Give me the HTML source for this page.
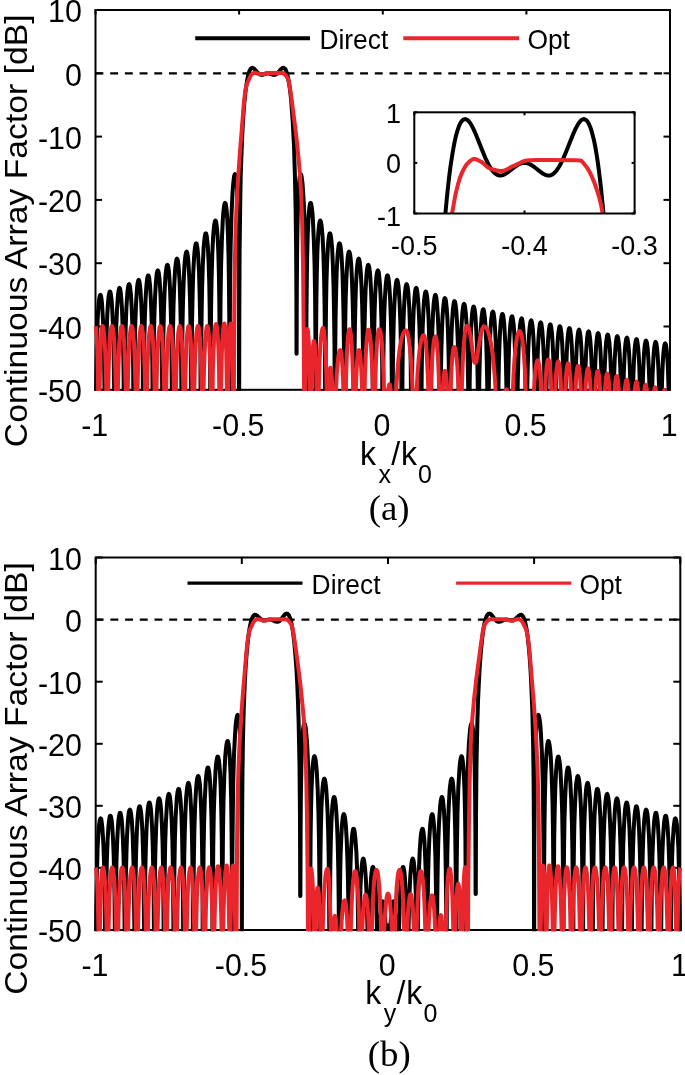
<!DOCTYPE html>
<html><head><meta charset="utf-8"><title>Continuous Array Factor</title>
<style>html,body{margin:0;padding:0;background:#fff;overflow:hidden;}svg{display:block;}</style>
</head><body>
<svg width="685" height="1075" viewBox="0 0 685 1075" font-family="'Liberation Sans', Arial, Helvetica, sans-serif" fill="#000">
<rect width="685" height="1075" fill="#fff"/>
<clipPath id="clipA"><rect x="93.5" y="10.0" width="578.5" height="381.0"/></clipPath>
<line x1="95.5" y1="73.3" x2="670.0" y2="73.3" stroke="#000" stroke-width="2.2" stroke-dasharray="7.9 6.8"/>
<rect x="95.5" y="10.0" width="574.5" height="379.8" fill="none" stroke="#000" stroke-width="2"/>
<line x1="95.5" y1="389.8" x2="95.5" y2="385.3" stroke="#000" stroke-width="2"/>
<line x1="95.5" y1="10.0" x2="95.5" y2="14.5" stroke="#000" stroke-width="2"/>
<text transform="translate(94.7 435.6) scale(1.0 1.05)" font-size="30.4" text-anchor="middle">-1</text>
<line x1="239.1" y1="389.8" x2="239.1" y2="385.3" stroke="#000" stroke-width="2"/>
<line x1="239.1" y1="10.0" x2="239.1" y2="14.5" stroke="#000" stroke-width="2"/>
<text transform="translate(238.3 435.6) scale(1.0 1.05)" font-size="30.4" text-anchor="middle">-0.5</text>
<line x1="382.8" y1="389.8" x2="382.8" y2="385.3" stroke="#000" stroke-width="2"/>
<line x1="382.8" y1="10.0" x2="382.8" y2="14.5" stroke="#000" stroke-width="2"/>
<text transform="translate(381.9 435.6) scale(1.0 1.05)" font-size="30.4" text-anchor="middle">0</text>
<line x1="526.4" y1="389.8" x2="526.4" y2="385.3" stroke="#000" stroke-width="2"/>
<line x1="526.4" y1="10.0" x2="526.4" y2="14.5" stroke="#000" stroke-width="2"/>
<text transform="translate(525.6 435.6) scale(1.0 1.05)" font-size="30.4" text-anchor="middle">0.5</text>
<line x1="670.0" y1="389.8" x2="670.0" y2="385.3" stroke="#000" stroke-width="2"/>
<line x1="670.0" y1="10.0" x2="670.0" y2="14.5" stroke="#000" stroke-width="2"/>
<text transform="translate(669.2 435.6) scale(1.0 1.05)" font-size="30.4" text-anchor="middle">1</text>
<line x1="95.5" y1="10.0" x2="102.0" y2="10.0" stroke="#000" stroke-width="2"/>
<line x1="670.0" y1="10.0" x2="663.5" y2="10.0" stroke="#000" stroke-width="2"/>
<text transform="translate(81.8 22.2) scale(1.0 1.05)" font-size="30.4" text-anchor="end">10</text>
<line x1="95.5" y1="73.3" x2="102.0" y2="73.3" stroke="#000" stroke-width="2"/>
<line x1="670.0" y1="73.3" x2="663.5" y2="73.3" stroke="#000" stroke-width="2"/>
<text transform="translate(81.8 85.5) scale(1.0 1.05)" font-size="30.4" text-anchor="end">0</text>
<line x1="95.5" y1="136.6" x2="102.0" y2="136.6" stroke="#000" stroke-width="2"/>
<line x1="670.0" y1="136.6" x2="663.5" y2="136.6" stroke="#000" stroke-width="2"/>
<text transform="translate(81.8 148.8) scale(1.0 1.05)" font-size="30.4" text-anchor="end">-10</text>
<line x1="95.5" y1="199.9" x2="102.0" y2="199.9" stroke="#000" stroke-width="2"/>
<line x1="670.0" y1="199.9" x2="663.5" y2="199.9" stroke="#000" stroke-width="2"/>
<text transform="translate(81.8 212.1) scale(1.0 1.05)" font-size="30.4" text-anchor="end">-20</text>
<line x1="95.5" y1="263.2" x2="102.0" y2="263.2" stroke="#000" stroke-width="2"/>
<line x1="670.0" y1="263.2" x2="663.5" y2="263.2" stroke="#000" stroke-width="2"/>
<text transform="translate(81.8 275.4) scale(1.0 1.05)" font-size="30.4" text-anchor="end">-30</text>
<line x1="95.5" y1="326.5" x2="102.0" y2="326.5" stroke="#000" stroke-width="2"/>
<line x1="670.0" y1="326.5" x2="663.5" y2="326.5" stroke="#000" stroke-width="2"/>
<text transform="translate(81.8 338.7) scale(1.0 1.05)" font-size="30.4" text-anchor="end">-40</text>
<line x1="95.5" y1="389.8" x2="102.0" y2="389.8" stroke="#000" stroke-width="2"/>
<line x1="670.0" y1="389.8" x2="663.5" y2="389.8" stroke="#000" stroke-width="2"/>
<text transform="translate(81.8 402.0) scale(1.0 1.05)" font-size="30.4" text-anchor="end">-50</text>
<g clip-path="url(#clipA)" fill="none" stroke-width="4" stroke-linejoin="round" stroke-linecap="butt">
<path d="M95.5 440.4L95.7 440.4 96.1 388.4 96.7 347.9 97.6 321.1 98.1 310.9 98.7 303.0 99.3 298.4 99.8 295.8 100.1 295.1 100.4 294.9 100.7 295.2 101.0 296.0 101.5 299.0 102.0 303.5 102.9 318.0 103.6 335.1 104.1 356.2 104.5 390.3 104.9 440.4 105.3 440.4 105.8 374.8 106.2 350.6 106.7 330.9 107.3 314.5 108.1 301.9 108.5 297.4 109.0 294.1 109.5 292.2 109.7 291.7 109.9 291.5 110.2 291.7 110.4 292.2 110.8 294.0 111.7 301.0 112.4 312.6 113.0 327.5 113.6 347.9 114.0 371.9 114.5 440.4 114.8 440.4 115.3 373.3 115.7 348.3 116.2 328.2 116.9 311.4 117.7 298.6 118.1 294.1 118.6 290.7 119.0 288.6 119.2 288.2 119.5 287.9 119.7 288.1 120.0 288.5 120.4 290.3 120.8 293.2 121.2 297.5 122.0 309.2 122.6 325.3 123.2 346.6 123.6 372.0 124.0 440.4 124.4 440.4 124.9 371.5 125.2 347.6 125.7 326.4 126.4 308.1 127.2 295.1 127.6 290.5 128.1 287.0 128.6 284.9 128.8 284.3 129.1 284.1 129.3 284.2 129.5 284.7 130.0 286.6 130.9 294.2 131.6 306.2 132.3 322.9 132.8 343.2 133.2 369.0 133.6 440.4 134.0 440.4 134.4 369.5 134.8 344.9 135.3 323.1 136.0 304.6 136.8 291.3 137.2 286.2 137.7 282.7 138.2 280.7 138.4 280.1 138.7 279.9 138.9 280.1 139.1 280.5 139.6 282.5 140.5 290.1 141.2 302.2 141.9 319.0 142.4 339.5 142.8 365.7 143.2 440.4 143.5 440.4 144.0 367.3 144.3 341.8 144.8 319.6 145.5 300.7 146.3 287.2 146.8 282.0 147.2 278.4 147.7 276.1 148.0 275.5 148.2 275.4 148.5 275.5 148.7 276.0 149.2 278.0 149.6 281.4 150.1 286.1 150.8 298.5 151.5 315.9 152.0 337.4 152.4 365.3 152.8 440.4 153.1 440.4 153.5 364.7 153.9 338.4 154.4 315.6 155.1 296.3 155.9 282.1 156.4 277.0 156.8 273.4 157.3 271.1 157.6 270.6 157.8 270.4 158.1 270.6 158.3 271.1 158.8 273.2 159.3 276.8 159.7 281.6 160.5 294.4 161.1 312.4 161.5 330.9 161.9 354.8 162.2 393.4 162.4 440.4 162.6 440.4 163.1 361.8 163.4 334.5 163.9 311.2 164.6 291.5 165.4 277.0 165.9 271.7 166.4 267.8 166.9 265.6 167.2 265.0 167.4 264.8 167.7 265.0 167.9 265.6 168.4 267.7 168.9 271.3 169.3 276.1 170.1 289.8 170.7 308.3 171.2 327.7 171.5 353.2 171.8 389.8 172.0 440.0 172.0 440.4 172.2 440.4 172.6 358.3 173.0 330.0 173.5 306.1 174.2 286.1 175.0 271.3 175.5 265.9 176.0 261.9 176.5 259.5 176.7 258.9 177.0 258.6 177.3 258.8 177.5 259.4 178.0 261.7 178.5 265.4 178.9 270.4 179.7 284.5 180.3 303.7 180.8 326.1 181.1 351.3 181.4 392.7 181.6 439.2 181.6 440.4 181.7 440.4 182.2 354.2 182.5 324.8 183.0 301.7 183.7 280.7 184.5 264.8 185.0 259.2 185.5 255.0 186.1 252.4 186.3 251.8 186.6 251.6 186.8 251.7 187.1 252.3 187.6 254.6 188.1 258.3 188.5 263.7 189.3 278.2 190.0 298.0 190.4 319.3 190.7 344.9 191.0 387.8 191.2 438.0 191.2 440.4 191.3 440.4 191.7 349.2 192.1 318.6 192.6 294.9 193.2 273.4 194.1 257.1 194.6 251.0 195.1 246.8 195.6 244.2 195.9 243.5 196.2 243.3 196.5 243.5 196.7 244.1 197.2 246.5 197.7 250.6 198.2 256.3 199.0 271.5 199.6 292.7 200.1 315.9 200.4 345.3 200.7 436.3 200.8 440.4 200.9 440.4 201.2 347.5 201.6 316.1 202.1 288.1 202.8 265.5 203.6 247.9 204.2 241.6 204.7 237.0 205.2 234.2 205.5 233.5 205.8 233.3 206.1 233.5 206.3 234.1 206.8 236.5 207.3 240.8 207.8 246.6 208.6 262.1 209.3 283.9 209.7 308.4 210.0 340.5 210.4 440.4 210.8 339.4 211.1 306.5 211.6 277.6 212.3 253.5 213.2 235.7 213.8 228.9 214.3 224.3 214.9 221.4 215.2 220.7 215.5 220.5 215.8 220.8 216.0 221.4 216.5 224.2 217.0 228.7 217.5 234.8 218.3 251.4 218.9 273.6 219.3 300.6 219.6 333.0 220.0 440.4 220.3 333.7 220.6 296.3 221.1 265.1 221.9 239.4 222.8 219.9 223.3 212.7 223.9 207.4 224.5 204.0 224.8 203.2 225.1 202.9 225.4 203.1 225.7 203.8 226.2 206.6 226.7 211.2 227.2 217.5 228.0 235.0 228.6 259.2 229.0 287.3 229.3 319.9 229.6 440.4 229.9 316.0 230.2 276.2 230.7 243.5 231.5 214.5 232.5 193.1 233.1 185.2 233.7 179.1 234.3 175.4 234.7 174.4 235.0 174.1 235.3 174.3 235.6 175.1 236.1 178.1 236.6 183.1 237.1 189.5 237.8 208.2 238.4 233.3 238.7 266.1 238.9 307.8 239.1 440.4 239.3 317.8 239.6 250.9 240.3 197.3 240.7 176.2 241.4 156.2 242.2 135.5 243.2 117.7 244.4 102.2 245.7 89.6 247.2 80.0 248.0 76.1 248.7 73.1 249.6 70.8 250.5 69.1 251.4 68.1 252.4 67.8 253.3 68.1 254.3 68.8 257.7 72.7 259.0 73.9 260.2 74.6 261.5 74.9 263.0 74.7 266.3 73.5 267.8 73.3 269.6 73.5 273.3 74.8 274.3 74.9 275.2 74.7 276.3 74.2 277.4 73.4 280.7 69.5 281.9 68.4 283.0 67.9 283.5 67.8 284.0 68.0 284.8 68.6 285.6 69.6 286.2 71.1 286.9 73.0 288.2 78.3 289.4 85.3 290.3 92.3 291.2 100.6 292.7 121.1 294.0 145.9 294.9 174.8 295.6 207.7 296.1 246.6 296.4 295.1 296.5 353.7 296.6 353.7 296.8 289.9 297.2 243.8 297.7 214.9 298.4 192.9 299.0 184.0 299.6 177.8 299.9 175.9 300.3 174.6 300.6 174.1 301.0 174.4 301.4 175.5 301.7 177.4 302.5 183.3 303.1 192.0 303.8 203.1 304.4 218.7 304.9 236.9 305.6 283.0 305.9 339.6 306.1 440.4 306.4 319.9 306.7 287.3 307.1 259.2 307.7 235.0 308.5 217.5 309.0 211.2 309.5 206.6 310.0 203.8 310.3 203.1 310.6 202.9 310.9 203.2 311.2 204.0 311.8 207.4 312.4 212.7 312.9 219.9 313.8 239.4 314.6 265.1 315.1 296.3 315.4 333.7 315.7 440.4 316.1 333.0 316.4 300.6 316.8 273.6 317.4 251.4 318.2 234.8 318.7 228.7 319.2 224.2 319.7 221.4 319.9 220.8 320.2 220.5 320.5 220.7 320.8 221.4 321.4 224.3 321.9 228.9 322.5 235.7 323.4 253.5 324.1 277.6 324.6 306.5 324.9 339.4 325.3 440.4 325.7 340.5 326.0 308.4 326.4 283.9 327.1 262.1 327.9 246.6 328.4 240.8 328.9 236.5 329.4 234.1 329.6 233.5 329.9 233.3 330.2 233.5 330.5 234.2 331.0 237.0 331.5 241.6 332.1 247.9 332.9 265.5 333.6 288.1 334.1 316.1 334.5 347.5 334.8 440.4 334.9 440.4 335.0 436.3 335.3 345.3 335.6 315.9 336.1 292.7 336.7 271.5 337.5 256.3 338.0 250.6 338.5 246.5 339.0 244.1 339.2 243.5 339.5 243.3 339.8 243.5 340.1 244.2 340.6 246.8 341.1 251.0 341.6 257.1 342.5 273.4 343.1 294.9 343.6 318.6 344.0 349.2 344.4 440.4 344.5 440.4 344.5 438.0 344.7 387.8 345.0 344.9 345.3 319.3 345.7 298.0 346.4 278.2 347.2 263.7 347.6 258.3 348.1 254.6 348.6 252.3 348.9 251.7 349.1 251.6 349.4 251.8 349.6 252.4 350.2 255.0 350.7 259.2 351.2 264.8 352.0 280.7 352.7 301.7 353.2 324.8 353.5 354.2 354.0 440.4 354.1 440.4 354.1 439.2 354.3 392.7 354.6 351.3 354.9 326.1 355.4 303.7 356.0 284.5 356.8 270.4 357.2 265.4 357.7 261.7 358.2 259.4 358.4 258.8 358.7 258.6 359.0 258.9 359.2 259.5 359.7 261.9 360.2 265.9 360.7 271.3 361.5 286.1 362.2 306.1 362.7 330.0 363.1 358.3 363.5 440.4 363.7 440.4 363.7 440.0 363.9 389.8 364.2 353.2 364.5 327.7 365.0 308.3 365.6 289.8 366.4 276.1 366.8 271.3 367.3 267.7 367.8 265.6 368.0 265.0 368.3 264.8 368.5 265.0 368.8 265.6 369.3 267.8 369.8 271.7 370.3 277.0 371.1 291.5 371.8 311.2 372.3 334.5 372.6 361.8 373.1 440.4 373.3 440.4 373.5 393.4 373.8 354.8 374.2 330.9 374.6 312.4 375.2 294.4 376.0 281.6 376.4 276.8 376.9 273.2 377.4 271.1 377.6 270.6 377.9 270.4 378.1 270.6 378.4 271.1 378.9 273.4 379.3 277.0 379.8 282.1 380.6 296.3 381.3 315.6 381.8 338.4 382.2 364.7 382.6 440.4 382.9 440.4 383.3 365.3 383.7 337.4 384.2 315.9 384.9 298.5 385.6 286.1 386.1 281.4 386.5 278.0 387.0 276.0 387.2 275.5 387.5 275.4 387.7 275.5 388.0 276.1 388.5 278.4 388.9 282.0 389.4 287.2 390.2 300.7 390.9 319.6 391.4 341.8 391.7 367.3 392.2 440.4 392.5 440.4 392.9 365.7 393.3 339.5 393.8 319.0 394.5 302.2 395.2 290.1 396.1 282.5 396.6 280.5 396.8 280.1 397.0 279.9 397.3 280.1 397.5 280.7 398.0 282.7 398.5 286.2 398.9 291.3 399.7 304.6 400.4 323.1 400.9 344.9 401.3 369.5 401.7 440.4 402.1 440.4 402.5 369.0 402.9 343.2 403.4 322.9 404.1 306.2 404.8 294.2 405.7 286.6 406.2 284.7 406.4 284.2 406.6 284.1 406.9 284.3 407.1 284.9 407.6 287.0 408.1 290.5 408.5 295.1 409.3 308.1 410.0 326.4 410.5 347.6 410.8 371.5 411.3 440.4 411.7 440.4 412.1 372.0 412.5 346.6 413.1 325.3 413.7 309.2 414.5 297.5 414.9 293.2 415.3 290.3 415.7 288.5 416.0 288.1 416.2 287.9 416.5 288.2 416.7 288.6 417.1 290.7 417.6 294.1 418.0 298.6 418.8 311.4 419.5 328.2 420.0 348.3 420.4 373.3 420.9 440.4 421.2 440.4 421.7 371.9 422.1 347.9 422.7 327.5 423.3 312.6 424.0 301.0 424.9 294.0 425.3 292.2 425.5 291.7 425.8 291.5 426.0 291.7 426.2 292.2 426.7 294.1 427.2 297.4 427.6 301.9 428.4 314.5 429.0 330.9 429.5 350.6 429.9 374.8 430.4 440.4 430.8 440.4 431.3 374.4 431.7 350.8 432.3 330.6 432.9 315.8 433.6 304.3 434.5 297.4 434.9 295.6 435.1 295.1 435.4 294.9 435.6 295.1 435.8 295.6 436.3 297.5 437.1 305.0 437.9 317.3 438.6 333.5 439.1 352.8 439.5 376.3 440.0 440.4 440.4 440.4 440.9 376.8 441.3 351.9 441.9 332.4 442.5 317.5 443.3 307.0 444.1 300.3 444.5 298.6 444.7 298.2 444.9 298.1 445.2 298.3 445.4 298.8 445.9 300.7 446.7 308.2 447.5 320.0 448.1 335.9 448.6 354.8 449.0 377.6 449.6 440.4 450.0 440.4 450.5 376.4 451.0 352.8 451.5 334.1 452.2 319.6 452.9 309.5 453.7 303.2 454.1 301.6 454.3 301.2 454.5 301.1 454.8 301.3 455.0 301.8 455.4 303.6 456.3 310.9 457.0 322.4 457.7 338.1 458.2 356.6 458.6 378.8 459.1 440.4 459.6 440.4 460.1 378.4 460.6 355.2 461.1 336.7 461.7 322.9 462.4 312.6 463.2 306.2 463.6 304.5 463.9 304.1 464.1 303.9 464.3 304.1 464.5 304.5 465.0 306.3 465.8 313.4 466.6 324.8 467.2 340.1 467.7 358.3 468.1 379.9 468.7 440.4 469.2 440.4 469.7 380.4 470.1 357.4 470.7 338.1 471.3 324.8 472.0 314.8 472.8 308.7 473.2 307.2 473.4 306.7 473.7 306.6 473.9 306.8 474.1 307.3 474.6 309.0 475.4 315.8 476.1 327.0 476.8 342.1 477.3 359.9 477.7 380.9 478.3 440.4 478.8 440.4 479.3 379.8 479.8 358.0 480.3 340.4 480.9 327.2 481.6 317.2 482.4 311.2 482.8 309.7 483.0 309.3 483.3 309.2 483.5 309.3 483.7 309.7 484.1 311.4 484.9 318.1 485.7 329.1 486.3 343.9 486.8 361.4 487.2 381.9 487.8 440.4 488.4 440.4 488.9 381.6 489.4 360.0 489.9 341.6 490.5 328.8 491.2 319.6 492.0 313.8 492.4 312.2 492.6 311.8 492.8 311.6 493.0 311.7 493.2 312.1 493.7 313.7 494.5 320.3 495.2 331.1 495.9 345.7 496.4 364.3 496.8 385.1 497.4 440.4 497.9 440.4 498.5 383.2 498.9 361.9 499.5 343.7 500.1 331.0 500.8 321.8 501.6 316.0 502.0 314.5 502.2 314.1 502.4 314.0 502.6 314.1 502.8 314.5 503.3 316.1 504.1 322.7 504.8 333.6 505.5 348.3 506.0 365.6 506.4 385.8 506.9 440.4 507.5 440.4 508.1 382.6 508.6 362.4 509.1 344.8 509.8 332.5 510.4 323.6 511.2 318.1 511.6 316.7 512.0 316.2 512.2 316.3 512.4 316.8 512.8 318.4 513.7 325.1 514.4 335.4 515.0 349.9 515.5 366.8 515.9 386.5 516.5 440.4 517.1 440.4 517.7 384.1 518.2 364.1 518.7 346.6 519.3 334.4 520.0 325.6 520.8 320.2 521.2 318.8 521.6 318.4 521.8 318.5 522.0 318.9 522.4 320.6 523.2 327.0 523.9 337.1 524.6 351.3 525.1 367.9 525.5 387.2 526.1 440.4 526.7 440.4 527.3 385.5 527.8 364.4 528.3 347.6 528.9 336.3 529.6 327.6 530.4 322.2 530.7 320.9 531.1 320.4 531.3 320.5 531.5 320.9 532.0 322.6 532.8 328.8 533.5 338.7 534.1 352.7 534.6 369.0 535.1 390.0 535.6 440.4 536.3 440.4 536.9 386.9 537.4 366.0 537.9 349.3 538.5 338.2 539.2 329.5 539.9 324.1 540.3 322.9 540.7 322.4 540.9 322.6 541.1 323.0 541.5 324.4 542.3 330.5 543.0 340.3 543.7 354.1 544.2 370.1 544.6 388.4 545.2 440.4 545.9 440.4 546.5 386.2 547.0 366.3 547.6 350.2 548.1 339.3 548.8 331.0 549.5 326.0 549.9 324.8 550.3 324.3 550.5 324.5 550.7 324.9 551.1 326.4 551.9 332.5 552.6 342.4 553.2 355.3 553.7 371.1 554.2 391.0 554.7 440.4 555.5 440.4 556.1 387.5 556.6 367.7 557.1 351.8 557.7 341.0 558.4 332.7 559.1 327.8 559.5 326.6 559.8 326.2 560.1 326.3 560.3 326.7 560.7 328.2 561.5 334.1 562.2 343.8 562.8 356.6 563.3 372.0 563.7 391.5 564.3 440.4 565.0 440.4 565.7 388.6 566.2 369.1 566.8 352.5 567.3 342.1 568.0 334.4 568.7 329.6 569.1 328.4 569.4 328.0 569.8 328.4 570.2 329.8 571.0 335.7 571.7 345.2 572.3 357.7 572.8 372.9 573.3 392.0 573.9 440.4 574.6 440.4 575.3 388.0 575.8 369.3 576.4 354.0 576.9 343.7 577.6 336.0 578.3 331.2 578.7 330.1 579.0 329.7 579.2 329.9 579.4 330.3 579.8 331.8 580.6 337.5 581.3 347.1 581.9 359.8 582.4 375.0 582.8 392.4 583.4 440.4 584.2 440.4 584.9 389.1 585.4 370.6 586.0 354.7 586.6 344.7 587.2 337.3 587.9 332.9 588.2 331.8 588.6 331.4 588.8 331.6 589.0 332.0 589.4 333.5 590.2 339.3 590.9 348.4 591.5 360.8 592.0 375.8 592.4 394.7 593.0 440.4 593.8 440.4 594.5 390.2 595.0 371.9 595.6 356.1 596.1 346.2 596.8 339.2 597.4 334.6 597.8 333.5 598.2 333.1 598.5 333.5 598.9 334.9 599.7 340.3 600.4 349.6 601.0 361.9 601.5 376.6 601.9 393.2 602.6 440.4 603.4 440.4 604.1 391.2 604.5 373.1 605.2 357.4 605.7 347.6 606.3 340.6 607.0 336.2 607.4 335.0 607.7 334.6 608.1 335.1 608.5 336.5 609.3 342.0 610.0 350.8 610.6 362.9 611.1 377.3 611.5 395.4 612.1 440.4 613.0 440.4 613.7 390.5 614.2 372.1 614.8 358.0 615.4 348.5 616.0 341.8 616.6 337.5 617.0 336.5 617.3 336.2 617.7 336.7 618.1 338.1 618.9 343.7 619.6 352.5 620.2 364.7 621.1 395.7 621.7 440.4 622.6 440.4 623.3 391.5 623.8 373.2 624.4 359.3 624.9 349.8 625.5 343.2 626.2 339.1 626.5 338.1 626.9 337.7 627.3 338.1 627.6 339.3 628.4 344.6 629.1 353.1 629.7 364.7 630.2 378.7 630.6 396.0 631.3 440.4 632.2 440.4 632.9 392.5 633.4 374.4 634.0 360.5 634.5 351.1 635.1 344.5 635.8 340.5 636.1 339.5 636.5 339.1 636.9 339.6 637.2 340.8 638.0 346.2 638.7 354.7 639.3 366.5 640.2 396.3 640.8 440.4 641.7 440.4 642.5 393.4 643.0 375.4 643.6 361.0 644.1 352.4 644.7 345.9 645.4 341.9 645.7 340.9 646.1 340.6 646.4 341.1 646.8 342.3 647.6 347.7 648.2 356.3 648.8 367.3 649.3 381.2 649.7 398.3 650.4 440.4 651.3 440.4 652.0 394.2 652.5 376.5 653.2 362.2 653.7 353.6 654.3 347.2 655.0 343.2 655.3 342.3 655.6 341.9 656.0 342.4 656.4 343.6 657.1 348.8 657.8 357.3 658.4 368.2 658.9 381.8 659.3 398.5 659.9 440.4 660.9 440.4 661.0 439.5 661.3 413.7 661.7 393.6 662.2 376.5 662.8 362.7 663.3 354.4 663.9 348.4 664.5 344.5 664.9 343.6 665.2 343.3 665.5 343.7 665.9 344.7 666.6 349.0 667.2 356.2 667.8 365.9 668.3 380.1 668.8 397.1 669.5 439.5 669.5 440.4 670.0 440.4" stroke="#000"/>
<path d="M95.5 326.2L95.8 327.2 96.1 329.2 96.6 336.1 97.2 346.3 97.6 359.5 98.2 394.3 98.6 440.4 99.2 440.4 99.7 387.3 100.0 367.4 100.5 351.6 100.9 340.9 101.4 332.7 101.9 327.7 102.2 326.4 102.5 326.0 102.7 326.1 102.9 326.6 103.3 328.1 104.1 334.1 104.8 343.5 105.4 356.6 105.9 372.6 106.3 391.2 106.8 440.4 107.6 440.4 108.2 386.7 108.7 367.0 109.3 351.1 109.8 340.4 110.5 332.5 111.2 327.5 111.6 326.4 111.9 326.0 112.1 326.1 112.3 326.5 112.8 328.1 113.6 334.0 114.3 343.4 114.9 356.6 115.4 371.6 115.9 390.5 116.5 440.4 117.2 440.4 117.9 387.1 118.4 368.1 119.0 351.7 119.6 340.7 120.3 332.7 121.0 327.7 121.4 326.5 121.8 326.0 122.2 326.4 122.5 327.5 123.3 332.5 124.0 340.6 124.6 351.6 125.2 368.2 125.7 387.4 126.3 439.9 126.3 440.4 127.1 440.4 127.7 391.0 128.1 371.8 128.6 356.5 129.3 343.3 130.0 333.9 130.8 328.0 131.2 326.6 131.4 326.1 131.6 326.0 132.0 326.4 132.3 327.6 133.1 332.6 133.8 340.6 134.4 351.7 135.0 368.3 135.5 387.6 136.1 440.3 136.1 440.4 136.9 440.4 137.5 390.8 137.9 371.7 138.4 356.5 139.1 343.3 139.8 333.8 140.6 328.0 141.0 326.5 141.2 326.1 141.4 326.0 141.7 326.4 142.1 327.5 142.8 332.5 143.5 340.4 144.0 351.0 144.6 366.9 145.1 386.5 145.7 440.4 146.5 440.4 147.0 391.4 147.4 372.8 147.9 356.7 148.5 343.6 149.2 334.1 150.0 328.1 150.4 326.6 150.6 326.1 150.8 326.0 151.0 326.1 151.2 326.5 151.6 328.0 152.4 333.8 153.1 343.6 153.7 356.6 154.2 372.4 154.6 390.6 155.2 440.4 155.9 440.4 155.9 440.0 156.5 388.3 157.0 368.3 157.6 351.2 158.2 340.6 158.9 332.3 159.6 327.5 160.0 326.4 160.3 326.0 160.7 326.5 161.1 327.7 161.8 332.6 162.4 340.3 163.0 351.3 163.7 367.9 164.1 387.2 164.5 410.0 164.8 440.2 164.8 440.4 165.5 440.4 166.1 392.1 166.5 372.4 167.0 356.8 167.7 343.4 168.4 333.8 169.2 328.0 169.6 326.5 169.8 326.1 170.0 326.0 170.2 326.1 170.4 326.5 170.8 328.0 171.6 333.8 172.3 343.2 173.0 356.3 173.5 371.5 173.9 390.5 174.5 440.4 175.3 440.4 175.9 387.9 176.4 367.3 177.0 351.0 177.7 340.2 178.3 332.3 179.1 327.6 179.4 326.4 179.8 326.0 180.2 326.5 180.6 328.2 181.3 334.3 182.0 343.9 182.5 357.0 183.4 390.7 183.9 440.4 184.6 440.4 185.1 393.9 185.9 359.6 186.6 342.2 187.1 335.3 187.6 330.5 188.0 327.7 188.4 326.2 188.6 326.0 188.9 326.1 189.3 327.2 189.8 329.6 190.2 333.2 191.0 344.1 191.7 360.8 192.3 382.5 192.7 409.6 193.0 440.4 193.7 440.4 194.3 390.6 194.7 372.1 195.1 357.0 195.8 343.7 196.4 334.1 197.2 328.1 197.6 326.5 197.8 326.1 198.0 326.0 198.4 326.4 198.7 327.7 199.4 332.5 200.1 340.5 200.6 351.4 201.2 367.7 201.7 388.0 202.3 440.4 203.0 440.4 203.6 388.6 204.0 369.4 204.6 353.4 205.2 340.7 206.0 331.6 206.4 328.7 206.8 326.7 207.2 326.0 207.5 326.1 207.7 326.5 208.3 329.4 208.9 335.4 209.4 343.7 209.9 354.1 210.4 370.2 210.8 389.0 211.4 440.4 212.0 440.4 212.6 390.2 212.9 370.3 213.4 354.5 214.0 341.4 214.7 331.6 215.4 325.7 215.8 324.4 216.0 324.1 216.2 324.1 216.5 324.9 216.8 326.3 217.4 331.7 218.0 339.7 218.5 351.0 219.0 368.0 219.4 388.4 219.9 439.3 219.9 440.4 220.5 440.4 221.0 389.8 221.8 354.4 222.3 341.1 223.0 331.0 223.6 325.2 224.0 323.8 224.2 323.5 224.4 323.5 224.6 324.1 224.9 325.6 225.4 331.2 225.8 339.5 226.2 350.8 226.9 386.5 227.3 440.4 227.8 440.4 228.2 390.2 228.8 353.8 229.3 340.6 229.7 331.3 230.3 325.4 230.5 323.9 230.8 323.5 231.1 324.1 231.3 325.6 231.7 331.3 232.1 340.2 232.5 352.7 233.1 389.4 233.4 440.4 233.6 440.4 234.4 296.9 235.0 257.0 235.7 227.7 236.3 212.7 237.2 194.0 238.8 168.2 240.4 146.4 243.4 109.5 244.0 102.4 245.0 93.0 246.1 87.1 246.7 84.8 247.3 83.0 248.8 79.9 249.9 77.2 250.6 75.8 251.6 74.5 252.8 73.5 254.1 72.9 255.0 72.8 256.6 73.2 258.7 74.0 261.9 74.3 262.9 74.2 267.0 73.2 268.5 73.0 282.5 73.0 284.0 73.8 285.0 74.6 286.5 76.4 287.6 78.1 288.2 79.5 288.6 80.9 289.8 87.2 291.9 101.5 295.2 127.2 296.6 139.0 298.8 161.0 300.1 175.8 300.7 185.8 301.4 199.8 302.1 219.3 302.6 241.3 303.1 269.0 303.7 329.9 304.4 440.4 305.2 440.4 305.4 395.5 305.8 362.8 306.4 340.8 306.7 333.8 307.1 329.8 307.3 329.1 307.5 329.2 307.6 329.7 308.0 331.5 308.3 334.5 308.8 342.8 309.3 355.3 310.1 389.6 310.6 440.4 311.0 440.4 311.0 440.2 311.5 393.3 312.2 363.1 312.6 353.9 313.0 346.6 313.5 342.4 313.7 341.4 313.9 341.0 314.1 341.3 314.4 342.2 314.9 346.1 315.4 352.3 315.8 361.0 316.3 374.8 316.6 392.3 317.2 440.4 318.0 440.4 318.7 391.8 319.2 373.2 319.7 357.7 320.4 345.1 321.2 335.7 322.1 329.9 322.5 328.4 322.8 328.0 323.0 327.9 323.4 328.4 323.8 329.9 324.5 335.9 325.2 345.6 325.8 358.2 326.3 373.2 326.7 391.5 327.2 440.4 328.1 440.4 328.4 412.1 328.9 391.7 329.4 377.0 330.0 369.1 330.2 368.0 330.3 367.8 330.5 367.8 330.8 368.4 331.0 370.0 331.6 375.4 332.1 383.4 332.8 407.5 333.4 440.1 333.4 440.4 334.7 440.4 335.6 400.7 336.2 386.3 336.8 373.9 337.6 363.8 338.4 356.2 338.9 353.4 339.4 351.5 339.8 350.4 340.3 350.0 340.6 350.3 340.9 351.2 341.5 354.7 342.0 360.3 342.5 368.1 343.1 381.2 343.5 397.0 344.3 440.4 345.2 440.4 345.8 393.3 346.2 374.1 346.7 358.9 347.3 346.3 348.0 336.8 348.8 331.1 349.2 329.7 349.4 329.3 349.6 329.2 350.0 329.7 350.4 331.1 351.2 336.9 351.8 346.2 352.4 359.0 352.9 374.7 353.3 392.7 353.9 440.4 354.9 440.4 354.9 439.8 355.6 397.4 356.1 381.1 356.7 367.9 357.2 360.4 357.8 354.6 358.4 351.1 358.7 350.3 359.0 350.0 359.3 350.4 359.6 351.3 360.2 354.8 360.7 360.4 361.2 368.0 361.8 380.7 362.3 397.3 363.0 440.4 364.0 440.4 364.6 392.3 365.0 374.0 365.6 359.2 366.2 346.9 366.9 337.6 367.7 331.8 368.1 330.3 368.3 329.9 368.5 329.8 368.9 330.2 369.3 331.3 370.1 336.1 370.9 343.9 371.5 353.9 372.2 369.6 372.8 388.3 373.2 411.3 373.6 440.4 374.4 440.4 375.1 391.6 375.6 373.2 376.1 358.7 376.8 346.0 377.5 337.0 378.4 331.1 378.8 329.7 379.1 329.3 379.3 329.2 379.6 329.3 379.8 329.6 380.3 331.1 380.8 333.6 381.3 336.9 382.2 346.5 382.9 359.0 383.6 374.8 384.1 392.8 384.8 440.4 386.3 440.4 386.9 416.3 387.6 398.8 388.1 392.5 388.5 387.9 389.0 385.2 389.2 384.4 389.5 384.2 389.8 384.5 390.0 385.1 390.4 388.0 390.9 392.5 391.3 399.2 392.0 415.8 392.6 440.4 394.5 440.4 395.2 413.3 396.0 393.4 397.1 375.4 398.4 360.1 399.9 347.5 400.8 342.4 401.7 338.2 402.7 334.8 403.7 332.4 404.8 330.9 405.3 330.6 405.8 330.4 406.2 330.6 406.6 330.9 407.3 332.4 408.0 334.8 408.7 338.2 409.9 347.4 411.0 360.0 411.9 374.8 412.7 393.0 413.3 413.6 413.8 440.4 415.4 440.4 415.9 413.3 416.6 391.7 417.6 373.2 418.8 357.7 419.8 348.2 421.1 341.0 421.7 338.5 422.4 336.7 423.0 335.5 423.7 335.2 424.1 335.5 424.5 336.4 425.3 340.2 426.1 346.5 426.8 355.4 427.8 375.3 429.2 415.9 429.5 421.5 429.7 421.5 429.8 420.8 430.0 416.6 430.9 386.8 431.6 370.4 432.2 359.0 432.8 350.1 433.7 341.9 434.2 339.1 434.7 337.3 435.2 336.5 435.5 336.4 435.7 336.6 436.1 337.8 436.5 340.1 437.2 345.7 437.8 353.3 438.7 374.5 439.4 401.6 439.9 440.4 441.2 440.4 441.2 440.1 441.9 410.5 442.7 389.1 443.3 381.4 443.8 375.5 444.4 372.1 444.7 371.2 445.0 370.9 445.3 371.3 445.6 372.1 446.1 375.6 446.6 381.3 447.1 389.1 447.8 410.7 448.5 440.4 449.8 440.4 450.5 396.4 451.0 379.0 451.7 365.9 452.4 355.8 453.2 349.4 453.6 347.7 454.0 346.9 454.2 346.9 454.5 347.1 455.0 348.1 455.8 351.9 456.6 358.0 457.4 366.8 458.0 377.4 458.6 390.4 459.1 404.8 459.8 440.4 461.0 440.4 461.4 411.0 461.8 389.9 462.4 371.1 463.1 355.8 463.9 342.8 464.9 333.2 465.5 329.9 466.0 327.6 466.6 326.2 466.9 325.9 467.2 325.8 467.5 325.9 467.8 326.3 468.6 327.6 469.2 329.8 469.9 332.8 471.2 340.7 473.6 358.9 474.1 361.7 474.6 362.7 474.8 362.6 475.1 362.0 475.5 362.6 475.6 362.7 475.8 362.6 476.1 362.1 476.5 360.9 477.2 357.0 479.2 343.1 480.3 336.6 481.6 331.0 482.2 329.1 482.9 327.7 483.5 326.7 484.2 326.4 485.1 326.8 486.0 327.6 486.9 329.0 487.7 330.7 488.5 333.0 489.3 335.7 490.9 342.8 492.3 351.6 493.5 362.0 494.6 374.2 495.5 387.6 496.2 402.7 496.8 419.4 497.4 440.4 500.6 440.4 501.7 418.4 502.4 409.7 503.1 402.7 503.9 397.0 504.8 392.7 505.7 390.1 506.1 389.5 506.6 389.3 506.8 389.5 507.1 390.1 507.6 392.6 508.0 396.7 508.5 402.3 509.2 417.7 509.9 440.4 511.7 440.4 512.2 413.6 512.8 393.1 513.5 375.6 514.4 360.6 515.5 348.2 516.8 338.9 517.4 335.5 518.2 333.0 518.9 331.5 519.2 331.2 519.6 331.1 519.9 331.2 520.3 331.5 520.9 333.0 521.6 335.4 522.2 338.6 523.3 347.7 524.3 360.1 525.2 375.0 525.8 392.9 526.4 413.8 526.8 440.4 532.4 440.4 533.3 405.9 533.8 392.9 534.5 381.5 535.2 372.5 536.0 365.7 536.9 361.6 537.3 360.6 537.8 360.2 538.2 360.5 538.5 361.5 539.3 365.8 540.0 372.6 540.6 381.7 541.1 393.0 541.6 406.5 542.3 440.4 543.9 440.4 544.5 406.9 545.0 392.8 545.5 381.2 546.2 371.9 546.8 365.0 547.6 360.9 547.9 359.9 548.3 359.5 548.7 359.9 549.0 361.0 549.7 365.1 550.4 372.0 550.9 381.0 551.9 405.3 552.6 440.4 554.0 440.4 554.7 405.8 555.6 382.5 556.2 373.4 556.8 367.0 557.5 362.8 557.8 361.8 558.2 361.4 558.5 361.8 558.9 362.8 559.6 366.8 560.2 373.5 560.8 382.4 561.7 406.3 562.5 440.4 564.0 440.4 564.6 408.6 565.5 384.2 566.1 375.2 566.7 368.8 567.4 364.7 567.7 363.7 568.1 363.3 568.5 363.7 568.8 364.6 569.5 368.5 570.1 375.1 570.7 383.9 571.6 407.3 572.3 440.4 573.9 440.4 574.6 408.1 575.6 385.5 576.1 377.0 576.8 370.9 577.4 367.1 577.8 366.2 578.1 365.9 578.5 366.3 578.8 367.2 579.4 371.1 580.1 377.4 580.6 385.7 581.5 407.9 582.2 440.4 583.9 440.4 584.5 410.3 585.5 387.8 586.1 379.4 586.7 373.4 587.3 369.7 587.6 368.8 588.0 368.4 588.3 368.7 588.6 369.5 589.3 373.2 589.9 379.2 590.4 387.1 591.3 408.4 592.1 440.4 593.8 440.4 594.5 410.4 595.4 389.3 595.9 381.5 596.5 375.6 597.1 372.1 597.5 371.2 597.8 370.9 598.1 371.2 598.4 372.0 599.0 375.6 599.6 381.4 600.1 389.5 601.0 410.8 601.7 440.4 603.4 440.4 604.0 412.4 604.9 391.6 605.4 384.0 606.0 378.2 606.6 374.6 606.9 373.8 607.2 373.5 607.5 373.8 607.8 374.6 608.4 378.0 609.0 383.5 609.5 391.3 610.4 411.4 611.1 440.4 612.9 440.4 612.9 440.1 613.6 413.3 614.5 393.2 615.0 385.9 615.5 380.3 616.1 377.1 616.4 376.3 616.7 376.0 617.0 376.3 617.3 377.1 617.9 380.4 618.5 385.8 619.0 393.3 619.9 413.4 620.6 440.4 622.6 440.4 622.7 440.3 623.4 415.2 624.3 396.3 624.8 389.1 625.4 384.0 626.0 380.8 626.3 380.1 626.6 379.8 626.9 380.1 627.2 380.8 627.8 383.8 628.3 388.9 628.9 395.5 629.7 414.4 630.5 440.4 632.6 440.4 633.3 414.9 634.2 396.9 634.7 390.5 635.3 385.6 635.9 382.7 636.2 382.0 636.5 381.7 636.8 382.0 637.0 382.7 637.6 385.7 638.1 390.5 638.5 397.1 639.3 414.6 640.0 440.4 642.1 440.4 642.7 416.5 643.5 399.8 644.0 393.4 644.5 388.8 645.0 385.8 645.3 385.1 645.6 384.8 645.9 385.1 646.1 385.7 646.7 388.4 647.2 392.7 647.7 399.1 648.5 415.9 649.2 440.4 651.5 440.4 652.2 417.3 653.0 401.3 653.5 395.1 654.0 390.9 654.6 388.2 654.8 387.6 655.1 387.4 655.4 387.6 655.6 388.3 656.2 391.0 656.7 395.4 657.1 401.3 658.0 417.9 658.7 440.4 661.0 440.4 661.7 419.3 662.5 403.3 663.0 397.5 663.5 393.3 664.0 390.8 664.2 390.1 664.5 389.9 664.8 390.2 665.0 390.8 665.5 393.3 666.1 397.6 666.5 403.5 667.3 418.7 668.0 440.4 670.0 440.4" stroke="#e8262b"/>
</g>
<text transform="translate(27.2 230.8) rotate(-90) scale(1.05 1)" text-anchor="middle" font-size="32.1">Continuous Array Factor [dB]</text>
<text transform="translate(359.9 465.4) scale(1.0 1.03)" font-size="32">k</text>
<text transform="translate(378.6 482.8) scale(1.0 1.03)" font-size="25">x</text>
<text transform="translate(391.3 465.4) scale(1.0 1.03)" font-size="32">/</text>
<text transform="translate(400.9 465.4) scale(1.0 1.03)" font-size="32">k</text>
<text transform="translate(418.1 482.8) scale(1.0 1.03)" font-size="25">0</text>
<text x="389.2" y="520.3" text-anchor="middle" font-family="'Liberation Serif', 'Times New Roman', serif" font-size="36.8">(a)</text>
<clipPath id="clipB"><rect x="93.7" y="557.5" width="588.6" height="373.7"/></clipPath>
<line x1="95.7" y1="619.6" x2="680.3" y2="619.6" stroke="#000" stroke-width="2.2" stroke-dasharray="7.9 6.8"/>
<rect x="95.7" y="557.5" width="584.6" height="372.5" fill="none" stroke="#000" stroke-width="2"/>
<line x1="95.7" y1="930.0" x2="95.7" y2="923.5" stroke="#000" stroke-width="2"/>
<line x1="95.7" y1="557.5" x2="95.7" y2="564.0" stroke="#000" stroke-width="2"/>
<text transform="translate(94.9 975.8) scale(1.0 1.05)" font-size="30.4" text-anchor="middle">-1</text>
<line x1="241.8" y1="930.0" x2="241.8" y2="923.5" stroke="#000" stroke-width="2"/>
<line x1="241.8" y1="557.5" x2="241.8" y2="564.0" stroke="#000" stroke-width="2"/>
<text transform="translate(241.0 975.8) scale(1.0 1.05)" font-size="30.4" text-anchor="middle">-0.5</text>
<line x1="388.0" y1="930.0" x2="388.0" y2="923.5" stroke="#000" stroke-width="2"/>
<line x1="388.0" y1="557.5" x2="388.0" y2="564.0" stroke="#000" stroke-width="2"/>
<text transform="translate(387.2 975.8) scale(1.0 1.05)" font-size="30.4" text-anchor="middle">0</text>
<line x1="534.1" y1="930.0" x2="534.1" y2="923.5" stroke="#000" stroke-width="2"/>
<line x1="534.1" y1="557.5" x2="534.1" y2="564.0" stroke="#000" stroke-width="2"/>
<text transform="translate(533.4 975.8) scale(1.0 1.05)" font-size="30.4" text-anchor="middle">0.5</text>
<line x1="680.3" y1="930.0" x2="680.3" y2="923.5" stroke="#000" stroke-width="2"/>
<line x1="680.3" y1="557.5" x2="680.3" y2="564.0" stroke="#000" stroke-width="2"/>
<text transform="translate(679.5 975.8) scale(1.0 1.05)" font-size="30.4" text-anchor="middle">1</text>
<line x1="95.7" y1="557.5" x2="102.7" y2="557.5" stroke="#000" stroke-width="2"/>
<line x1="680.3" y1="557.5" x2="673.3" y2="557.5" stroke="#000" stroke-width="2"/>
<text transform="translate(81.8 569.7) scale(1.0 1.05)" font-size="30.4" text-anchor="end">10</text>
<line x1="95.7" y1="619.6" x2="102.7" y2="619.6" stroke="#000" stroke-width="2"/>
<line x1="680.3" y1="619.6" x2="673.3" y2="619.6" stroke="#000" stroke-width="2"/>
<text transform="translate(81.8 631.8) scale(1.0 1.05)" font-size="30.4" text-anchor="end">0</text>
<line x1="95.7" y1="681.7" x2="102.7" y2="681.7" stroke="#000" stroke-width="2"/>
<line x1="680.3" y1="681.7" x2="673.3" y2="681.7" stroke="#000" stroke-width="2"/>
<text transform="translate(81.8 693.9) scale(1.0 1.05)" font-size="30.4" text-anchor="end">-10</text>
<line x1="95.7" y1="743.8" x2="102.7" y2="743.8" stroke="#000" stroke-width="2"/>
<line x1="680.3" y1="743.8" x2="673.3" y2="743.8" stroke="#000" stroke-width="2"/>
<text transform="translate(81.8 756.0) scale(1.0 1.05)" font-size="30.4" text-anchor="end">-20</text>
<line x1="95.7" y1="805.8" x2="102.7" y2="805.8" stroke="#000" stroke-width="2"/>
<line x1="680.3" y1="805.8" x2="673.3" y2="805.8" stroke="#000" stroke-width="2"/>
<text transform="translate(81.8 818.0) scale(1.0 1.05)" font-size="30.4" text-anchor="end">-30</text>
<line x1="95.7" y1="867.9" x2="102.7" y2="867.9" stroke="#000" stroke-width="2"/>
<line x1="680.3" y1="867.9" x2="673.3" y2="867.9" stroke="#000" stroke-width="2"/>
<text transform="translate(81.8 880.1) scale(1.0 1.05)" font-size="30.4" text-anchor="end">-40</text>
<line x1="95.7" y1="930.0" x2="102.7" y2="930.0" stroke="#000" stroke-width="2"/>
<line x1="680.3" y1="930.0" x2="673.3" y2="930.0" stroke="#000" stroke-width="2"/>
<text transform="translate(81.8 942.2) scale(1.0 1.05)" font-size="30.4" text-anchor="end">-50</text>
<g clip-path="url(#clipB)" fill="none" stroke-width="4" stroke-linejoin="round" stroke-linecap="butt">
<path d="M95.7 979.7L95.8 979.7 96.2 913.3 96.8 878.4 97.6 848.2 98.2 836.9 98.8 827.7 99.4 822.5 100.0 819.5 100.3 818.7 100.6 818.4 101.0 818.7 101.3 819.5 101.8 822.7 102.4 828.1 103.4 844.3 104.1 864.4 104.6 889.1 105.0 924.4 105.3 979.7 105.6 979.7 106.0 906.1 106.4 880.8 106.9 858.8 107.6 840.2 108.4 827.1 108.9 822.0 109.4 818.5 109.8 816.5 110.1 815.9 110.4 815.7 110.6 815.8 110.8 816.3 111.3 818.2 111.8 821.5 112.2 826.0 113.0 838.7 113.7 855.6 114.1 872.9 114.5 894.7 114.8 928.1 115.1 979.7 115.3 979.7 115.8 905.5 116.1 879.3 116.6 856.8 117.3 838.7 118.1 824.5 118.6 819.3 119.1 815.8 119.6 813.5 119.9 812.9 120.1 812.8 120.4 812.9 120.6 813.5 121.1 815.5 121.6 819.0 122.0 823.6 122.8 836.7 123.5 854.3 123.9 872.3 124.3 895.5 124.6 932.4 124.8 976.0 124.8 979.7 125.0 979.7 125.5 904.8 125.8 877.6 126.4 854.6 127.0 836.1 127.9 821.7 128.3 816.4 128.8 812.6 129.4 810.3 129.6 809.8 129.9 809.6 130.1 809.8 130.4 810.4 130.8 812.4 131.3 815.9 131.8 820.5 132.6 833.7 133.2 851.5 133.7 869.7 134.0 893.2 134.4 931.2 134.5 977.5 134.6 979.7 134.8 979.7 135.2 903.9 135.6 875.8 136.1 852.2 136.8 832.5 137.6 818.2 138.1 813.0 138.6 809.1 139.1 806.9 139.4 806.4 139.6 806.2 139.9 806.4 140.1 807.0 140.6 809.3 141.1 812.9 141.6 817.7 142.4 831.3 143.0 849.7 143.5 868.8 143.8 893.8 144.1 929.8 144.3 979.0 144.3 979.7 144.5 979.7 145.0 899.2 145.3 871.5 145.8 849.5 146.5 829.5 147.3 814.9 147.8 809.6 148.3 805.6 148.8 803.3 149.1 802.7 149.4 802.5 149.6 802.7 149.9 803.3 150.4 805.6 150.9 809.2 151.3 814.1 152.1 827.8 152.8 846.3 153.2 867.6 153.6 891.1 153.9 928.1 154.1 979.7 154.3 979.7 154.7 897.8 155.0 869.0 155.5 846.5 156.2 826.1 157.0 811.2 157.5 805.8 158.0 801.7 158.5 799.3 158.8 798.7 159.1 798.4 159.3 798.6 159.6 799.1 160.1 801.3 160.6 804.9 161.1 810.1 161.9 824.7 162.6 843.8 163.0 864.1 163.3 887.9 163.6 926.1 163.8 979.7 164.0 979.7 164.4 896.1 164.8 866.2 165.2 843.0 165.9 822.3 166.8 807.1 167.2 801.6 167.8 797.4 168.3 794.8 168.6 794.2 168.8 793.9 169.1 794.1 169.4 794.7 169.9 797.0 170.4 800.7 170.9 806.1 171.7 821.1 172.4 841.0 172.8 862.2 173.1 887.9 173.4 923.7 173.6 979.7 173.7 979.7 174.1 894.0 174.5 862.9 174.9 839.1 175.6 817.9 176.5 802.5 177.0 796.4 177.5 792.3 178.1 789.7 178.3 789.1 178.6 788.8 178.9 789.0 179.2 789.6 179.7 791.9 180.1 795.6 180.6 801.0 181.5 816.1 182.1 836.1 182.5 857.6 182.9 883.7 183.1 920.8 183.3 979.7 183.5 979.7 183.8 891.4 184.2 858.9 184.7 834.5 185.4 812.9 186.2 796.6 186.8 790.6 187.3 786.4 187.8 783.8 188.1 783.1 188.4 782.9 188.7 783.2 188.9 783.8 189.5 786.3 190.0 790.4 190.4 796.1 191.2 811.1 191.9 831.8 192.3 854.4 192.7 882.7 193.1 979.7 193.2 979.7 193.5 888.1 193.9 856.7 194.4 829.0 195.1 806.9 196.0 790.3 196.5 784.1 197.0 779.5 197.6 776.9 197.9 776.2 198.2 776.0 198.4 776.2 198.7 776.8 199.2 779.5 199.8 783.7 200.2 789.6 201.0 805.0 201.7 826.4 202.1 850.2 202.5 881.1 202.8 979.7 202.9 979.7 203.3 883.7 203.6 850.7 204.1 822.2 204.8 799.6 205.7 782.0 206.2 775.8 206.8 771.2 207.3 768.5 207.6 767.7 207.9 767.5 208.2 767.7 208.5 768.3 209.0 770.8 209.5 775.0 210.0 780.8 210.8 797.1 211.5 819.2 211.9 844.4 212.2 873.3 212.7 979.7 213.0 877.5 213.3 842.9 213.8 813.4 214.6 789.2 215.5 771.5 216.0 764.8 216.6 760.3 217.2 757.4 217.4 756.7 217.7 756.5 218.0 756.7 218.3 757.5 218.9 760.3 219.4 764.8 219.9 770.9 220.7 788.3 221.3 810.9 221.8 838.8 222.0 873.4 222.4 979.7 222.7 868.4 223.0 831.7 223.5 801.2 224.3 776.2 225.2 757.2 225.8 750.3 226.4 745.2 227.0 742.0 227.3 741.2 227.6 741.0 227.9 741.2 228.2 742.0 228.7 744.9 229.2 749.5 229.7 755.8 230.5 773.0 231.1 796.9 231.5 824.6 231.8 856.6 232.1 979.7 232.4 852.9 232.8 814.0 233.2 783.8 234.0 754.7 235.1 733.6 235.6 725.8 236.3 719.8 237.0 716.2 237.3 715.2 237.6 714.9 237.9 715.2 238.2 715.9 238.8 718.9 239.3 723.7 239.8 730.5 240.5 749.1 241.1 773.8 241.4 806.1 241.7 847.1 241.8 979.7 242.1 826.1 242.4 779.6 242.9 742.9 243.7 709.7 244.9 680.3 245.6 667.9 246.4 656.3 247.3 646.5 248.2 637.7 249.5 628.6 250.9 621.8 251.7 619.2 252.5 617.3 253.3 615.9 254.2 615.1 254.7 614.8 255.3 614.8 256.5 615.2 257.6 616.1 260.9 619.2 261.9 619.9 262.9 620.4 263.8 620.5 264.7 620.5 268.5 619.6 270.3 619.5 272.1 619.9 275.7 621.6 277.3 621.8 278.5 621.5 279.8 620.7 281.1 619.3 284.6 614.7 285.7 613.9 286.7 613.6 287.6 613.8 288.4 614.6 289.2 615.9 290.0 617.9 290.8 620.3 291.5 623.4 292.9 631.3 294.2 641.5 295.3 654.0 296.4 668.3 297.3 685.0 298.0 702.4 298.6 720.6 299.5 763.9 300.0 817.8 300.2 895.9 300.4 895.9 300.6 835.5 300.9 793.4 301.4 765.2 302.1 744.0 302.5 735.4 303.1 729.0 303.7 725.0 304.0 723.9 304.4 723.5 304.7 723.7 305.1 724.7 305.8 728.4 306.4 734.9 307.1 743.3 307.8 758.2 308.5 775.8 309.0 797.1 309.4 822.8 309.8 879.4 310.0 979.7 310.4 869.1 310.6 837.2 311.0 809.9 311.6 787.4 312.4 770.2 312.8 764.4 313.4 759.9 313.9 757.1 314.2 756.5 314.5 756.2 314.7 756.5 315.1 757.3 315.7 760.2 316.2 765.2 316.8 771.9 317.7 790.0 318.5 814.5 319.0 841.9 319.4 876.4 319.7 979.7 319.9 979.7 320.2 881.4 320.5 852.2 320.9 827.1 321.5 806.4 322.3 791.5 322.8 785.7 323.3 781.8 323.8 779.4 324.0 778.8 324.3 778.6 324.6 778.8 324.9 779.5 325.4 782.2 326.0 786.7 326.5 793.2 327.5 810.0 328.2 832.3 328.7 857.9 329.1 888.9 329.5 979.7 329.6 979.7 329.8 923.5 330.1 886.8 330.4 861.0 330.8 841.5 331.4 822.6 332.2 808.7 332.6 803.7 333.1 800.0 333.6 797.7 333.9 797.1 334.1 797.0 334.4 797.2 334.7 797.9 335.2 800.4 335.7 804.5 336.2 810.3 337.1 825.6 337.8 846.3 338.3 869.5 338.7 899.9 339.2 979.7 339.4 979.7 339.6 931.6 339.9 896.1 340.2 873.5 340.6 854.3 341.3 837.1 342.0 824.4 342.5 819.7 342.9 816.6 343.4 814.7 343.6 814.2 343.9 814.1 344.1 814.3 344.4 814.9 344.9 817.1 345.4 821.0 345.9 826.1 346.7 839.7 347.4 858.7 348.0 881.2 348.4 907.8 348.9 979.7 349.2 979.7 349.6 909.3 350.0 885.2 350.5 864.5 351.1 849.0 351.9 837.8 352.3 833.8 352.7 830.9 353.1 829.2 353.4 828.8 353.6 828.7 353.8 828.9 354.1 829.5 354.6 831.5 355.0 834.9 355.5 839.8 356.4 852.8 357.1 869.6 357.6 889.9 358.0 915.4 358.6 979.7 359.0 979.7 359.6 923.9 360.0 903.7 360.5 886.1 361.1 874.1 361.8 865.6 362.5 860.3 362.9 859.1 363.3 858.6 363.5 858.8 363.7 859.2 364.1 860.8 365.0 867.6 365.8 877.9 366.5 892.1 367.0 908.4 367.5 929.2 368.1 979.7 368.8 979.7 369.4 925.3 369.8 905.7 370.4 891.0 370.9 880.5 371.5 873.0 372.2 868.5 372.5 867.3 372.9 866.9 373.3 867.3 373.8 868.9 374.6 875.0 375.4 884.7 376.1 898.0 376.6 914.1 377.1 932.9 377.8 979.7 378.8 979.7 379.6 940.8 380.0 926.8 380.6 916.0 381.1 909.6 381.6 905.1 382.1 902.3 382.4 901.5 382.7 901.3 383.1 901.6 383.4 902.7 384.1 906.7 384.8 913.6 385.4 922.8 386.4 946.2 387.2 979.7 388.8 979.7 389.6 946.2 390.6 922.8 391.2 913.6 391.9 906.7 392.6 902.7 392.9 901.6 393.3 901.3 393.6 901.5 393.9 902.3 394.4 905.1 394.9 909.6 395.4 916.0 396.0 926.8 396.4 940.8 397.2 979.7 398.2 979.7 398.6 951.5 399.0 929.6 399.5 910.6 400.1 894.0 400.9 880.5 401.8 871.6 402.2 868.9 402.7 867.3 403.0 866.9 403.2 866.9 403.6 867.8 404.3 871.1 404.8 876.5 405.3 884.2 405.8 894.6 406.3 909.8 406.7 929.6 407.2 979.7 407.9 979.7 408.6 925.4 409.0 905.9 409.7 888.6 410.4 874.4 411.3 864.8 411.7 861.6 412.2 859.5 412.7 858.6 412.9 858.7 413.1 859.1 413.5 860.3 413.8 862.2 414.5 868.4 415.1 877.3 415.6 889.0 416.1 905.2 416.5 926.3 417.0 979.7 417.4 979.7 418.0 912.7 418.5 886.7 419.1 866.5 419.8 849.4 420.7 836.9 421.2 832.6 421.8 830.0 422.3 828.8 422.5 828.7 422.8 829.0 423.2 830.5 423.6 832.9 424.4 841.0 425.0 852.8 425.6 868.2 426.1 889.1 426.4 912.6 426.8 979.7 427.1 979.7 427.6 904.8 428.1 877.6 428.6 856.4 429.4 837.5 430.3 823.5 430.9 818.8 431.4 815.6 432.0 814.2 432.2 814.1 432.5 814.3 432.9 815.7 433.3 818.3 434.1 826.8 434.8 839.6 435.4 856.9 436.1 896.1 436.4 931.6 436.6 979.7 436.8 979.7 437.3 896.3 437.7 867.5 438.2 843.7 439.0 823.2 440.0 808.0 440.5 802.6 441.1 799.0 441.6 797.2 441.9 797.0 442.2 797.2 442.7 798.6 443.1 801.5 444.0 810.8 444.7 825.3 445.3 844.4 445.7 865.7 446.0 890.6 446.4 979.7 446.5 979.7 446.9 888.9 447.3 855.6 447.9 829.5 448.7 807.5 449.6 790.8 450.2 785.0 450.8 780.9 451.4 778.8 451.7 778.6 452.0 778.8 452.5 780.4 453.0 783.4 453.8 793.7 454.6 809.3 455.2 830.5 455.5 852.2 455.8 881.4 456.1 979.7 456.3 979.7 456.6 876.4 457.0 841.9 457.5 813.0 458.3 788.2 459.4 769.9 459.9 763.4 460.6 758.9 461.2 756.6 461.5 756.2 461.8 756.4 462.3 758.0 462.8 761.3 463.3 766.1 463.7 772.6 464.5 789.6 465.0 811.8 465.4 837.2 465.6 869.1 466.0 979.7 466.2 879.4 466.6 822.8 467.0 797.1 467.5 775.8 468.2 758.2 468.9 743.3 469.6 734.9 470.2 728.4 470.9 724.7 471.3 723.7 471.6 723.5 472.0 723.9 472.3 725.0 472.9 729.0 473.5 735.4 473.9 744.0 474.6 765.2 475.1 793.4 475.4 835.5 475.6 894.0 475.8 894.0 476.0 817.8 476.5 763.9 477.4 720.6 478.0 701.4 478.8 684.2 479.7 667.7 480.7 653.5 481.9 641.1 483.1 631.0 484.5 623.2 485.3 620.2 486.0 617.8 486.8 615.9 487.6 614.6 488.4 613.8 489.3 613.6 490.3 613.9 491.4 614.7 494.9 619.3 496.2 620.7 497.5 621.5 498.7 621.8 500.3 621.6 503.9 619.9 505.7 619.5 507.5 619.6 511.3 620.5 512.2 620.5 513.1 620.4 514.1 619.9 515.1 619.2 518.4 616.1 519.5 615.2 520.7 614.8 521.3 614.8 521.8 615.1 522.7 615.9 523.5 617.3 524.3 619.2 525.1 621.8 526.5 628.6 527.8 637.7 528.7 646.5 529.6 656.3 530.4 667.9 531.1 680.3 532.3 709.7 533.1 742.9 533.6 779.6 533.9 826.1 534.1 979.7 534.3 847.1 534.6 806.1 534.9 773.8 535.5 749.1 536.2 730.5 536.7 723.7 537.2 718.9 537.8 715.9 538.1 715.2 538.4 714.9 538.7 715.2 539.0 716.2 539.7 719.8 540.4 725.8 540.9 733.6 542.0 754.7 542.8 783.8 543.2 814.0 543.6 852.9 543.9 979.7 544.2 856.6 544.5 824.6 544.9 796.9 545.5 773.0 546.3 755.8 546.8 749.5 547.3 744.9 547.8 742.0 548.1 741.2 548.4 741.0 548.7 741.2 549.0 742.0 549.6 745.2 550.2 750.3 550.8 757.2 551.7 776.2 552.5 801.2 553.0 831.7 553.3 868.4 553.6 979.7 554.0 873.4 554.2 838.8 554.7 810.9 555.3 788.3 556.1 770.9 556.6 764.8 557.1 760.3 557.7 757.5 558.0 756.7 558.3 756.5 558.6 756.7 558.8 757.4 559.4 760.3 560.0 764.8 560.5 771.5 561.4 789.2 562.2 813.4 562.7 842.9 563.0 877.5 563.3 979.7 563.8 873.3 564.1 844.4 564.5 819.2 565.2 797.1 566.0 780.8 566.5 775.0 567.0 770.8 567.5 768.3 567.8 767.7 568.1 767.5 568.4 767.7 568.7 768.5 569.2 771.2 569.8 775.8 570.3 782.0 571.2 799.6 571.9 822.2 572.4 850.7 572.7 883.7 573.1 979.7 573.2 979.7 573.5 881.1 573.9 850.2 574.3 826.4 575.0 805.0 575.8 789.6 576.2 783.7 576.8 779.5 577.3 776.8 577.6 776.2 577.8 776.0 578.1 776.2 578.4 776.9 579.0 779.5 579.5 784.1 580.0 790.3 580.9 806.9 581.6 829.0 582.1 856.7 582.5 888.1 582.8 979.7 582.9 979.7 583.3 882.7 583.7 854.4 584.1 831.8 584.8 811.1 585.6 796.1 586.0 790.4 586.5 786.3 587.1 783.8 587.3 783.2 587.6 782.9 587.9 783.1 588.2 783.8 588.7 786.4 589.2 790.6 589.8 796.6 590.6 812.9 591.3 834.5 591.8 858.9 592.2 891.4 592.5 979.7 592.7 979.7 592.9 920.8 593.1 883.7 593.5 857.6 593.9 836.1 594.5 816.1 595.4 801.0 595.9 795.6 596.3 791.9 596.8 789.6 597.1 789.0 597.4 788.8 597.7 789.1 597.9 789.7 598.5 792.3 599.0 796.4 599.5 802.5 600.4 817.9 601.1 839.1 601.5 862.9 601.9 894.0 602.3 979.7 602.4 979.7 602.6 923.7 602.9 887.9 603.2 862.2 603.6 841.0 604.3 821.1 605.1 806.1 605.6 800.7 606.1 797.0 606.6 794.7 606.9 794.1 607.2 793.9 607.4 794.2 607.7 794.8 608.2 797.4 608.8 801.6 609.2 807.1 610.1 822.3 610.8 843.0 611.2 866.2 611.6 896.1 612.0 979.7 612.2 979.7 612.4 926.1 612.7 887.9 613.0 864.1 613.4 843.8 614.1 824.7 614.9 810.1 615.4 804.9 615.9 801.3 616.4 799.1 616.7 798.6 616.9 798.4 617.2 798.7 617.5 799.3 618.0 801.7 618.5 805.8 619.0 811.2 619.8 826.1 620.5 846.5 621.0 869.0 621.3 897.8 621.7 979.7 621.9 979.7 622.1 928.1 622.4 891.1 622.8 867.6 623.2 846.3 623.9 827.8 624.7 814.1 625.1 809.2 625.6 805.6 626.1 803.3 626.4 802.7 626.6 802.5 626.9 802.7 627.2 803.3 627.7 805.6 628.2 809.6 628.7 814.9 629.5 829.5 630.2 849.5 630.7 871.5 631.0 899.2 631.5 979.7 631.7 979.7 631.7 979.0 631.9 929.8 632.2 893.8 632.5 868.8 633.0 849.7 633.6 831.3 634.4 817.7 634.9 812.9 635.4 809.3 635.9 807.0 636.1 806.4 636.4 806.2 636.6 806.4 636.9 806.9 637.4 809.1 637.9 813.0 638.4 818.2 639.2 832.5 639.9 852.2 640.4 875.8 640.8 903.9 641.2 979.7 641.4 979.7 641.5 977.5 641.6 931.2 642.0 893.2 642.3 869.7 642.8 851.5 643.4 833.7 644.2 820.5 644.7 815.9 645.2 812.4 645.6 810.4 645.9 809.8 646.1 809.6 646.4 809.8 646.6 810.3 647.2 812.6 647.7 816.4 648.1 821.7 649.0 836.1 649.6 854.6 650.2 877.6 650.5 904.8 651.0 979.7 651.2 979.7 651.2 976.0 651.4 932.4 651.7 895.5 652.1 872.3 652.5 854.3 653.2 836.7 654.0 823.6 654.4 819.0 654.9 815.5 655.4 813.5 655.6 812.9 655.9 812.8 656.1 812.9 656.4 813.5 656.9 815.8 657.4 819.3 657.9 824.5 658.7 838.7 659.4 856.8 659.9 879.3 660.2 905.5 660.7 979.7 660.9 979.7 661.2 928.1 661.5 894.7 661.9 872.9 662.3 855.6 663.0 838.7 663.8 826.0 664.2 821.5 664.7 818.2 665.2 816.3 665.4 815.8 665.6 815.7 665.9 815.9 666.2 816.5 666.6 818.5 667.1 822.0 667.6 827.1 668.4 840.2 669.1 858.8 669.6 880.8 670.0 906.1 670.4 979.7 670.7 979.7 671.0 924.4 671.4 889.1 671.9 864.4 672.6 844.3 673.6 828.1 674.2 822.7 674.7 819.5 675.0 818.7 675.4 818.4 675.7 818.7 676.0 819.5 676.6 822.5 677.2 827.7 677.8 836.9 678.4 848.2 679.2 878.4 679.8 913.3 680.2 979.7 680.3 979.7" stroke="#000"/>
<path d="M95.7 867.6L96.0 868.6 96.3 870.5 96.9 877.1 97.4 886.8 97.8 899.3 98.5 931.9 98.9 979.7 99.5 979.7 99.5 978.5 100.0 928.3 100.3 908.7 100.8 893.1 101.2 882.5 101.7 874.8 102.2 869.8 102.5 868.4 102.8 867.5 102.9 867.4 103.2 867.6 103.6 868.8 104.0 870.9 104.4 874.3 105.1 883.8 105.7 896.6 106.2 912.5 106.6 931.0 107.2 979.7 107.9 979.7 108.5 932.3 109.3 900.2 110.1 882.9 110.5 876.4 111.0 871.6 111.5 869.0 112.0 867.6 112.2 867.4 112.4 867.6 112.9 868.8 113.4 871.2 113.8 874.7 114.7 885.5 115.4 901.9 116.0 921.9 116.5 946.1 116.8 979.7 117.6 979.7 118.2 932.3 118.6 913.1 119.1 898.0 119.8 884.8 120.5 875.4 121.3 869.5 121.8 868.0 122.0 867.6 122.2 867.4 122.6 867.8 123.0 869.0 123.7 873.7 124.4 881.5 125.0 892.3 125.6 908.6 126.1 927.6 126.5 950.1 126.8 979.6 127.5 979.7 128.1 930.4 128.5 913.0 129.1 897.8 129.7 884.6 130.4 875.2 131.3 869.4 131.7 868.0 131.9 867.6 132.1 867.4 132.3 867.5 132.5 867.9 132.9 869.4 133.7 875.2 134.5 884.7 135.1 897.2 135.6 912.4 136.0 931.7 136.6 979.7 137.4 979.6 138.0 929.1 138.5 909.5 139.1 892.7 139.7 882.2 140.4 874.0 141.1 869.1 141.5 867.9 141.9 867.4 142.3 867.8 142.7 868.9 143.4 873.8 144.1 881.6 144.7 892.4 145.4 908.5 145.8 927.2 146.5 979.7 147.3 979.7 147.9 932.0 148.3 912.9 148.8 897.8 149.5 884.7 150.2 875.4 151.0 869.5 151.5 867.9 151.7 867.6 151.9 867.4 152.3 867.9 152.7 869.4 153.5 875.2 154.2 884.5 154.8 897.6 155.3 912.4 155.7 930.6 156.2 979.7 157.0 979.6 157.6 927.8 158.1 907.9 158.7 892.0 159.2 881.4 159.9 873.9 160.6 869.1 160.9 867.9 161.3 867.4 161.7 867.8 162.0 869.0 162.7 873.8 163.3 881.2 163.9 892.0 164.5 906.8 164.9 926.4 165.6 979.7 166.3 979.7 166.9 931.0 167.3 912.5 167.8 897.6 168.3 885.0 169.0 875.4 169.8 869.4 170.2 867.9 170.6 867.4 170.9 867.6 171.1 868.0 171.5 869.5 172.4 875.2 173.1 884.5 173.8 897.6 174.4 912.9 174.8 930.9 175.5 979.7 176.3 979.7 176.6 951.5 177.0 927.9 177.5 908.6 178.1 892.3 178.7 882.0 179.5 874.0 180.3 869.0 180.7 867.8 181.1 867.4 181.5 867.9 181.9 869.3 182.7 875.1 183.4 884.4 184.0 897.4 184.5 913.5 184.9 932.3 185.4 979.7 186.2 979.7 186.8 928.1 187.3 908.2 187.8 892.1 188.4 881.5 189.1 873.6 189.8 869.0 190.1 867.8 190.5 867.4 190.9 867.9 191.2 869.1 191.9 874.1 192.6 881.7 193.1 892.6 193.7 909.1 194.2 927.9 194.8 979.7 195.5 979.7 196.1 931.4 196.5 912.7 196.9 897.7 197.5 885.1 198.2 875.4 199.0 869.5 199.4 867.9 199.8 867.4 200.2 867.8 200.5 869.0 201.2 873.7 201.9 881.6 202.5 892.4 203.0 907.3 203.5 926.8 204.1 979.7 204.8 979.7 205.5 927.8 205.9 909.2 206.4 894.5 207.1 881.9 207.9 872.9 208.3 870.1 208.7 868.1 209.1 867.4 209.4 867.5 209.6 867.9 210.2 871.0 210.8 876.7 211.3 885.0 211.8 895.4 212.3 910.4 212.7 929.2 213.3 979.7 213.9 979.7 214.4 931.5 214.8 911.5 215.3 895.8 215.9 882.9 216.6 873.2 217.4 867.6 217.7 866.4 218.0 866.2 218.1 866.2 218.5 866.9 218.8 868.4 219.4 873.6 220.0 881.7 220.5 892.3 221.0 907.9 221.5 928.4 222.0 979.3 222.0 979.7 222.7 979.7 223.2 929.1 223.6 911.0 224.1 895.1 224.6 882.1 225.3 872.8 226.0 867.2 226.4 865.9 226.6 865.6 226.8 865.6 227.0 866.2 227.2 867.5 227.7 872.7 228.1 881.0 228.5 891.5 229.2 927.9 229.6 979.7 230.1 979.7 230.5 931.4 231.1 895.7 231.5 883.0 231.9 873.3 232.5 867.3 232.8 866.0 232.9 865.6 233.0 865.6 233.3 866.1 233.4 867.3 233.8 871.9 234.5 888.9 235.2 925.1 235.6 979.7 236.3 979.7 237.1 838.9 237.6 799.8 238.4 771.0 239.0 756.3 239.9 737.9 241.5 712.6 243.1 691.3 246.2 655.1 246.8 648.1 247.9 638.9 248.9 633.1 249.5 630.9 250.1 629.1 251.7 626.1 252.8 623.4 253.5 622.1 254.5 620.8 255.8 619.7 257.1 619.2 258.0 619.1 259.6 619.5 261.8 620.2 265.0 620.6 271.7 619.3 277.9 619.2 286.1 619.3 287.6 620.1 288.7 620.9 290.1 622.6 291.2 624.4 291.8 625.7 292.2 627.0 293.5 633.4 295.6 647.5 299.0 672.7 300.3 684.0 302.6 705.6 303.9 720.1 304.5 729.9 305.2 743.6 305.9 762.8 306.4 784.3 306.9 811.5 307.6 871.2 308.2 979.7 309.0 979.7 309.3 930.1 309.7 897.4 310.3 876.7 310.6 870.9 310.8 869.2 311.0 868.6 311.1 868.7 311.3 869.1 311.6 870.4 312.2 876.0 312.7 884.7 313.2 897.1 313.9 928.7 314.5 979.7 314.8 979.7 315.3 939.7 315.9 914.3 316.4 899.6 317.1 890.4 317.3 888.6 317.6 887.8 317.7 887.7 317.9 887.9 318.2 889.0 318.8 893.5 319.3 901.4 319.9 915.0 320.4 932.4 321.1 979.7 322.0 979.7 322.7 932.4 323.2 913.8 323.8 898.4 324.6 885.7 325.4 876.6 325.9 873.2 326.4 870.7 326.9 869.2 327.1 868.8 327.4 868.7 327.7 869.1 328.1 870.5 328.8 876.5 329.4 886.2 329.9 898.6 330.7 931.5 331.2 979.7 332.2 979.7 332.6 952.6 333.3 932.9 334.0 920.3 334.5 916.9 334.7 916.1 334.9 915.8 335.2 916.1 335.4 916.9 335.9 920.2 336.4 925.9 336.9 933.2 337.6 952.5 338.2 979.7 339.8 979.7 340.6 946.1 341.0 933.2 341.6 921.6 342.3 912.5 343.0 905.8 343.8 901.7 344.2 900.7 344.6 900.3 344.9 900.5 345.2 901.2 345.8 904.0 346.3 908.9 346.9 915.2 347.5 927.1 348.1 941.7 348.9 979.7 350.1 979.7 350.7 933.9 351.2 915.9 351.8 900.8 352.5 888.0 353.3 879.0 353.8 875.6 354.2 873.1 354.7 871.6 354.9 871.3 355.2 871.1 355.4 871.3 355.7 871.7 356.1 873.1 356.9 878.7 357.7 887.7 358.4 900.3 359.0 915.1 359.4 933.8 360.0 979.6 361.1 979.7 361.9 939.0 362.5 923.4 363.1 911.5 363.7 904.2 364.3 899.0 364.9 895.8 365.2 895.0 365.5 894.7 365.8 895.0 366.2 895.8 366.8 899.0 367.4 904.1 367.9 911.1 368.6 923.4 369.1 938.6 370.0 979.7 371.1 979.7 371.8 933.3 372.3 914.8 372.9 899.6 373.7 886.8 374.5 877.8 375.0 874.4 375.5 872.0 376.0 870.4 376.2 870.0 376.5 869.9 376.7 870.0 377.0 870.4 377.5 871.8 378.0 874.2 378.4 877.6 379.3 886.7 380.0 899.7 380.7 915.3 381.1 932.8 381.8 979.7 383.0 979.7 383.4 957.1 383.9 939.1 384.5 923.2 385.3 910.6 385.9 903.3 386.6 897.8 387.3 894.6 387.6 893.8 388.0 893.5 388.4 893.8 388.7 894.6 389.4 897.8 390.1 903.3 390.7 910.6 391.5 923.2 392.1 939.1 392.6 957.1 393.0 979.7 394.2 979.7 394.9 932.8 395.3 915.3 396.0 899.7 396.7 886.7 397.6 877.6 398.0 874.2 398.5 871.8 399.0 870.4 399.3 870.0 399.5 869.9 399.8 870.0 400.0 870.4 400.5 872.0 401.0 874.4 401.5 877.8 402.3 886.8 403.1 899.6 403.7 914.8 404.2 933.3 404.9 979.7 406.0 979.7 406.1 979.2 406.5 956.8 406.9 939.0 407.5 922.9 408.1 910.7 408.7 903.7 409.3 898.4 410.0 895.1 410.3 894.3 410.6 894.1 410.9 894.4 411.2 895.2 411.8 898.4 412.4 903.7 412.9 910.6 413.5 922.7 414.1 938.7 414.9 979.3 414.9 979.7 416.0 979.7 416.6 933.1 417.1 914.8 417.6 900.4 418.3 887.9 419.1 879.0 420.0 873.1 420.4 871.7 420.6 871.3 420.9 871.1 421.1 871.3 421.4 871.6 421.8 873.0 422.3 875.5 422.7 878.7 423.6 887.7 424.3 900.2 424.9 915.1 425.3 932.7 426.0 979.7 427.2 979.7 427.2 979.3 427.6 958.3 428.1 940.0 428.7 924.7 429.4 911.9 430.0 904.9 430.6 899.5 431.3 896.4 431.6 895.7 432.0 895.4 432.4 895.7 432.7 896.7 433.5 901.2 434.1 908.2 434.7 918.3 435.7 944.4 436.3 979.7 437.7 979.7 438.3 952.2 439.0 932.4 439.4 924.7 439.8 919.5 440.3 916.3 440.5 915.5 440.8 915.2 441.1 915.5 441.3 916.3 441.8 919.7 442.3 925.1 442.7 932.5 443.5 952.4 444.0 979.2 444.0 979.7 445.2 979.7 445.8 931.6 446.2 913.7 446.7 898.3 447.3 885.6 448.0 876.4 448.8 870.6 449.2 869.1 449.4 868.7 449.6 868.6 450.0 869.1 450.4 870.4 451.1 875.9 451.8 885.2 452.4 897.3 453.3 928.5 454.0 979.7 454.5 979.7 455.2 934.9 455.6 917.6 456.1 904.7 456.5 895.7 457.1 889.2 457.6 885.2 457.9 884.1 458.2 883.7 458.4 884.0 458.7 885.0 459.2 889.0 459.7 895.7 460.1 904.9 460.9 934.3 461.5 978.6 461.6 979.7 462.0 979.7 462.5 929.7 463.1 896.9 463.6 884.4 464.1 874.9 464.6 869.3 464.9 867.8 465.2 867.3 465.5 869.2 465.9 875.0 466.4 896.6 466.8 927.5 467.1 979.7 467.8 979.7 468.3 881.0 468.9 827.7 469.6 782.6 470.7 745.4 471.2 734.3 471.9 723.4 474.3 696.8 476.6 676.4 481.0 643.8 482.7 632.5 484.0 626.2 484.7 624.6 485.7 622.9 487.2 621.1 488.3 620.2 489.6 619.4 490.1 619.3 502.3 619.2 505.0 619.4 510.0 620.5 511.4 620.6 514.2 620.2 516.4 619.4 518.3 619.1 519.5 619.4 520.9 620.2 522.0 621.4 523.0 623.1 524.2 625.8 525.6 628.4 526.2 630.0 527.1 633.1 527.9 637.4 529.0 646.4 530.0 657.3 533.7 701.9 535.6 728.8 536.8 752.4 537.5 767.9 538.1 788.5 538.6 811.9 539.0 852.0 539.7 979.7 540.4 979.7 540.8 925.1 541.5 888.9 542.2 871.9 542.6 867.3 542.7 866.1 543.0 865.6 543.1 865.6 543.2 866.0 543.5 867.3 544.1 873.3 544.5 883.0 544.9 895.7 545.5 931.4 545.9 979.7 546.4 979.7 546.8 927.9 547.5 891.5 547.9 881.0 548.3 872.7 548.8 867.5 549.0 866.2 549.2 865.6 549.4 865.6 549.6 865.9 550.0 867.2 550.7 872.8 551.4 882.1 551.9 895.1 552.4 911.0 552.8 929.1 553.3 979.7 554.0 979.7 554.0 979.3 554.5 928.4 555.0 907.9 555.5 892.3 556.0 881.7 556.6 873.6 557.2 868.4 557.5 866.9 557.9 866.2 558.0 866.2 558.3 866.4 558.6 867.6 559.4 873.2 560.1 882.9 560.7 895.8 561.2 911.5 561.6 931.5 562.1 979.7 562.7 979.7 563.3 929.2 563.7 910.4 564.2 895.4 564.7 885.0 565.2 876.7 565.8 871.0 566.4 867.9 566.6 867.5 566.9 867.4 567.3 868.1 567.7 870.1 568.1 872.9 568.9 881.9 569.6 894.5 570.1 909.2 570.5 927.8 571.2 979.7 571.9 979.7 572.5 926.8 573.0 907.3 573.5 892.4 574.1 881.6 574.8 873.7 575.5 869.0 575.8 867.8 576.2 867.4 576.6 867.9 577.0 869.5 577.8 875.4 578.5 885.1 579.1 897.7 579.5 912.7 579.9 931.4 580.5 979.7 581.2 979.7 581.8 927.9 582.3 909.1 582.9 892.6 583.4 881.7 584.1 874.1 584.8 869.1 585.1 867.9 585.5 867.4 585.9 867.8 586.2 869.0 586.9 873.6 587.6 881.5 588.2 892.1 588.7 908.2 589.2 928.1 589.8 979.7 590.6 979.7 591.1 932.3 591.5 913.5 592.0 897.4 592.6 884.4 593.3 875.1 594.1 869.3 594.5 867.9 594.9 867.4 595.3 867.8 595.7 869.0 596.5 874.0 597.3 882.0 597.9 892.3 598.5 908.6 599.0 927.9 599.4 951.5 599.7 979.7 600.5 979.7 601.2 930.9 601.6 912.9 602.2 897.6 602.9 884.5 603.6 875.2 604.5 869.5 604.9 868.0 605.1 867.6 605.4 867.4 605.8 867.9 606.2 869.4 607.0 875.4 607.7 885.0 608.2 897.6 608.7 912.5 609.1 931.0 609.7 979.7 610.4 979.7 611.1 926.4 611.5 906.8 612.1 892.0 612.7 881.2 613.3 873.8 614.0 869.0 614.3 867.8 614.7 867.4 615.1 867.9 615.4 869.1 616.1 873.9 616.8 881.4 617.3 892.0 617.9 907.9 618.4 927.8 619.0 979.6 619.8 979.7 620.3 930.6 620.7 912.4 621.2 897.6 621.8 884.5 622.5 875.2 623.3 869.4 623.7 867.9 624.1 867.4 624.3 867.6 624.5 867.9 625.0 869.5 625.8 875.4 626.5 884.7 627.2 897.8 627.7 912.9 628.1 932.0 628.7 979.7 629.5 979.7 630.2 927.2 630.6 908.5 631.3 892.4 631.9 881.6 632.6 873.8 633.3 868.9 633.7 867.8 634.1 867.4 634.5 867.9 634.9 869.1 635.6 874.0 636.3 882.2 636.9 892.7 637.5 909.5 638.0 929.1 638.6 979.6 639.4 979.7 640.0 931.7 640.4 912.4 640.9 897.2 641.5 884.7 642.3 875.2 643.1 869.4 643.5 867.9 643.7 867.5 643.9 867.4 644.1 867.6 644.3 868.0 644.7 869.4 645.6 875.2 646.3 884.6 646.9 897.8 647.5 913.0 647.9 930.4 648.5 979.7 649.2 979.6 649.5 950.1 649.9 927.6 650.4 908.6 651.0 892.3 651.6 881.5 652.3 873.7 653.0 869.0 653.4 867.8 653.8 867.4 654.0 867.6 654.2 868.0 654.7 869.5 655.5 875.4 656.2 884.8 656.9 898.0 657.4 913.1 657.8 932.3 658.4 979.7 659.2 979.7 659.5 946.1 660.0 921.9 660.6 901.9 661.3 885.5 662.2 874.7 662.6 871.2 663.1 868.8 663.6 867.6 663.8 867.4 664.0 867.6 664.5 869.0 665.0 871.6 665.5 876.4 665.9 882.9 666.7 900.2 667.5 932.3 668.1 979.7 668.8 979.7 669.4 931.0 669.8 912.5 670.3 896.6 670.9 883.8 671.6 874.3 672.0 870.9 672.4 868.8 672.8 867.6 673.1 867.4 673.2 867.5 673.5 868.4 673.8 869.8 674.3 874.8 674.8 882.5 675.2 893.1 675.7 908.7 676.0 928.3 676.5 978.5 676.5 979.7 677.1 979.7 677.5 931.9 678.2 899.3 678.6 886.8 679.1 877.1 679.7 870.5 680.0 868.6 680.3 867.6" stroke="#e8262b"/>
</g>
<text transform="translate(27.2 778.5) rotate(-90) scale(1.05 1)" text-anchor="middle" font-size="32.1">Continuous Array Factor [dB]</text>
<text transform="translate(365.2 1004.2) scale(1.0 1.03)" font-size="32">k</text>
<text transform="translate(383.8 1021.6) scale(1.0 1.03)" font-size="25">y</text>
<text transform="translate(396.6 1004.2) scale(1.0 1.03)" font-size="32">/</text>
<text transform="translate(406.2 1004.2) scale(1.0 1.03)" font-size="32">k</text>
<text transform="translate(423.4 1021.6) scale(1.0 1.03)" font-size="25">0</text>
<text x="389.2" y="1065.6" text-anchor="middle" font-family="'Liberation Serif', 'Times New Roman', serif" font-size="36.8">(b)</text>
<line x1="195.2" y1="38.3" x2="310" y2="38.3" stroke="#000" stroke-width="4"/>
<text transform="translate(319.4 49.2) scale(1.0 1.02)" font-size="26.4">Direct</text>
<line x1="403.3" y1="38.3" x2="519" y2="38.3" stroke="#e8262b" stroke-width="4"/>
<text transform="translate(527.4 49.2) scale(1.0 1.02)" font-size="26.4">Opt</text>
<line x1="187.5" y1="583.2" x2="302.5" y2="583.2" stroke="#000" stroke-width="3.2"/>
<text transform="translate(311.6 594.2) scale(1.0 1.02)" font-size="26.4">Direct</text>
<line x1="456.1" y1="583.1" x2="571.4" y2="583.1" stroke="#e8262b" stroke-width="3.2"/>
<text transform="translate(579.4 594.2) scale(1.0 1.02)" font-size="26.4">Opt</text>
<rect x="411.3" y="109.3" width="226.3" height="107.2" fill="#fff"/>
<clipPath id="clipI"><rect x="414.3" y="112.3" width="220.3" height="101.2"/></clipPath>
<g clip-path="url(#clipI)" fill="none" stroke-width="4" stroke-linejoin="round">
<path d="M414.3 243.9L442.8 243.9 442.9 243.5 444.3 226.7 445.6 211.4 446.8 198.6 448.0 187.1 449.2 176.6 450.5 166.3 451.9 157.2 453.2 149.3 454.5 142.4 455.9 136.1 457.4 130.8 458.9 126.4 460.3 123.3 461.1 122.0 461.9 121.0 462.7 120.2 463.4 119.6 464.2 119.3 465.1 119.1 466.0 119.3 466.8 119.7 467.7 120.3 468.6 121.1 469.5 122.2 470.5 123.6 472.5 127.0 474.2 130.6 476.2 135.2 482.8 151.8 485.3 157.8 488.0 163.4 489.2 165.7 490.4 167.7 491.6 169.6 492.8 171.2 494.0 172.5 495.3 173.6 496.5 174.4 497.7 175.0 498.9 175.4 500.2 175.5 501.5 175.4 502.9 175.1 504.3 174.5 505.8 173.7 508.6 171.8 515.1 166.7 516.8 165.5 518.4 164.6 519.9 163.8 521.4 163.3 522.8 163.0 524.2 162.9 525.9 163.0 527.5 163.3 529.3 164.0 531.1 164.9 532.6 165.8 534.3 167.0 539.8 171.3 541.6 172.7 543.6 174.0 545.4 174.8 546.4 175.2 547.4 175.4 548.4 175.5 549.2 175.5 550.1 175.4 551.0 175.1 551.9 174.7 552.8 174.2 553.7 173.5 554.7 172.6 555.7 171.5 556.8 170.2 558.9 167.0 561.0 163.2 562.9 159.3 565.0 154.4 571.4 138.4 573.7 132.8 575.9 128.1 577.9 124.5 579.0 122.8 580.1 121.4 581.1 120.4 582.1 119.7 583.0 119.2 584.0 119.1 585.0 119.4 585.9 119.9 586.7 120.6 587.3 121.4 588.1 122.5 588.8 123.7 590.1 126.7 591.4 130.5 592.7 135.2 594.1 140.8 595.4 147.5 596.6 154.5 597.8 162.4 599.0 171.3 600.2 181.2 601.3 191.1 603.4 212.6 604.7 228.0 606.0 243.5 606.1 243.9 634.6 243.9" stroke="#000"/>
<path d="M414.3 243.9L444.9 243.9 445.9 238.6 447.0 233.5 450.5 219.7 451.9 214.0 452.9 209.0 454.9 197.5 455.9 192.7 458.2 183.6 459.2 180.2 460.2 177.2 461.3 174.3 463.3 169.9 464.9 167.1 466.3 164.9 467.1 164.0 468.9 162.1 471.0 160.3 471.9 159.7 472.7 159.3 473.5 159.1 474.2 159.0 475.4 159.1 476.8 159.6 478.2 160.2 481.1 161.7 482.9 163.1 487.3 166.9 488.5 167.8 489.5 168.3 493.1 169.5 496.0 170.3 498.7 170.8 501.1 171.0 502.1 171.0 503.1 170.8 505.2 170.2 507.2 169.2 512.0 166.6 515.4 165.1 521.4 162.2 524.3 161.0 525.7 160.7 526.9 160.5 530.8 160.2 537.2 160.0 548.4 159.9 576.1 160.2 580.2 160.4 581.0 160.6 581.6 161.1 582.3 161.8 586.0 166.3 587.9 168.9 589.5 171.7 591.5 175.9 594.2 182.3 596.0 187.3 597.7 192.4 599.4 198.2 600.6 203.0 601.7 208.1 602.8 214.2 603.4 218.7 604.2 225.0 606.1 243.4 606.2 243.9 634.6 243.9" stroke="#e8262b"/>
</g>
<rect x="414.3" y="112.3" width="220.3" height="101.2" fill="none" stroke="#000" stroke-width="2"/>
<line x1="414.3" y1="112.3" x2="417.3" y2="112.3" stroke="#000" stroke-width="2"/>
<line x1="634.6" y1="112.3" x2="631.6" y2="112.3" stroke="#000" stroke-width="2"/>
<text transform="translate(401.0 122.7) scale(1.0 1.04)" font-size="27.0" text-anchor="end">1</text>
<line x1="414.3" y1="162.9" x2="417.3" y2="162.9" stroke="#000" stroke-width="2"/>
<line x1="634.6" y1="162.9" x2="631.6" y2="162.9" stroke="#000" stroke-width="2"/>
<text transform="translate(401.0 173.3) scale(1.0 1.04)" font-size="27.0" text-anchor="end">0</text>
<line x1="414.3" y1="213.5" x2="417.3" y2="213.5" stroke="#000" stroke-width="2"/>
<line x1="634.6" y1="213.5" x2="631.6" y2="213.5" stroke="#000" stroke-width="2"/>
<text transform="translate(401.0 225.9) scale(1.0 1.04)" font-size="27.0" text-anchor="end">-1</text>
<line x1="414.3" y1="213.5" x2="414.3" y2="210.5" stroke="#000" stroke-width="2"/>
<line x1="414.3" y1="112.3" x2="414.3" y2="115.3" stroke="#000" stroke-width="2"/>
<text transform="translate(414.3 255.2) scale(1.0 1.04)" font-size="27.0" text-anchor="middle">-0.5</text>
<line x1="524.5" y1="213.5" x2="524.5" y2="210.5" stroke="#000" stroke-width="2"/>
<line x1="524.5" y1="112.3" x2="524.5" y2="115.3" stroke="#000" stroke-width="2"/>
<text transform="translate(524.5 255.2) scale(1.0 1.04)" font-size="27.0" text-anchor="middle">-0.4</text>
<line x1="634.6" y1="213.5" x2="634.6" y2="210.5" stroke="#000" stroke-width="2"/>
<line x1="634.6" y1="112.3" x2="634.6" y2="115.3" stroke="#000" stroke-width="2"/>
<text transform="translate(634.6 255.2) scale(1.0 1.04)" font-size="27.0" text-anchor="middle">-0.3</text>
</svg>
</body></html>
